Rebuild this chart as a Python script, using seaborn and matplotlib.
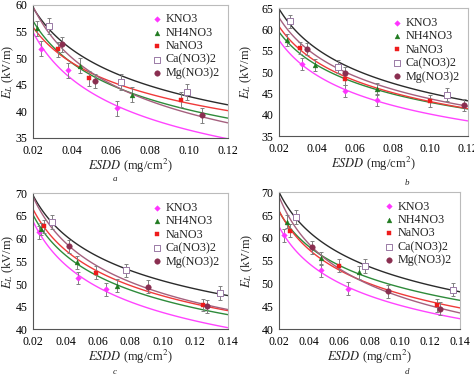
import numpy as np
import matplotlib
matplotlib.use("Agg")
import matplotlib.pyplot as plt
import seaborn as sns

salts = ["KNO3", "NH4NO3", "NaNO3", "Ca(NO3)2", "Mg(NO3)2"]

# ESDD (mg/cm2) and EL (kV/m), one list per salt
esdd_a = [[0.024, 0.038, 0.063], [0.022, 0.044, 0.071], [0.033, 0.049, 0.096],
          [0.028, 0.065, 0.099], [0.035, 0.052, 0.107]]
el_a = [[51.8, 47.7, 40.6], [55.6, 48.6, 43.1], [51.7, 46.2, 42.2],
        [56.0, 45.6, 43.6], [52.6, 45.7, 39.3]]

esdd_b = [[0.032, 0.055, 0.072], [0.024, 0.039, 0.072], [0.031, 0.055, 0.100],
          [0.026, 0.051, 0.109], [0.035, 0.055, 0.118]]
el_b = [[51.9, 45.6, 43.4], [57.5, 51.6, 46.0], [55.6, 48.5, 43.3],
        [61.9, 51.3, 44.7], [55.5, 49.9, 42.2]]

esdd_c = [[0.024, 0.048, 0.065], [0.025, 0.047, 0.072], [0.027, 0.059, 0.125],
          [0.032, 0.077, 0.135], [0.042, 0.091, 0.127]]
el_c = [[61.4, 51.3, 48.8], [62.1, 54.8, 49.6], [62.7, 52.5, 45.4],
        [63.6, 53.0, 48.0], [58.3, 49.4, 45.1]]

esdd_d = [[0.023, 0.048, 0.066], [0.025, 0.048, 0.073], [0.027, 0.060, 0.125],
          [0.031, 0.077, 0.135], [0.042, 0.092, 0.127]]
el_d = [[60.6, 52.9, 48.9], [63.5, 55.5, 52.5], [61.6, 53.9, 45.3],
        [64.5, 53.8, 48.7], [57.9, 48.3, 44.5]]

err = [1.4, 1.4, 1.4, 1.5, 1.4]

panels = ["a", "b", "c", "d"]
xmaxs = [0.12, 0.12, 0.14, 0.14]
ylims = [(35, 60), (35, 65), (40, 70), (40, 70)]

marker_col = ["#ff33ff", "#1f7a1f", "#ee1c1c", "#9a7aa6", "#8a2e50"]
curve_col = ["#ff44ff", "#2e8b3a", "#f03a3a", "#2b2b2b", "#a5607e"]
markers = ["D", "^", "s", "s", "o"]
msize = [8, 12, 12, 14, 16]

sns.set_theme(style="white")
plt.rcParams["font.family"] = ["Liberation Serif", "DejaVu Serif"]
plt.rcParams["mathtext.fontset"] = "stix"

fig = plt.figure(figsize=(4.74, 3.76), dpi=100)
rects = [[0.0696, 0.633, 0.411, 0.354], [0.5886, 0.638, 0.399, 0.340],
         [0.0696, 0.124, 0.411, 0.362], [0.5886, 0.124, 0.382, 0.365]]
ylab_x = [-0.085, -0.13, -0.085, -0.135]
# panel letter positions in pixels (x, y from top)
letter_pos = [(115, 179), (407, 183), (115, 372), (407, 372)]
all_x = [esdd_a, esdd_b, esdd_c, esdd_d]
all_y = [el_a, el_b, el_c, el_d]

for p in range(4):
    ax = fig.add_axes(rects[p])
    xs, ys = all_x[p], all_y[p]
    xfit = np.linspace(0.02, xmaxs[p], 120)
    for i in range(5):
        x = np.array(xs[i])
        y = np.array(ys[i])
        # Excel-style power trend line
        k, c = np.polyfit(np.log(x), np.log(y), 1)
        sns.lineplot(x=xfit, y=np.exp(c) * xfit ** k, ax=ax, color=curve_col[i],
                     lw=1.0, legend=False, zorder=2)
    for i in range(5):
        x = np.array(xs[i])
        y = np.array(ys[i])
        ax.errorbar(x, y, yerr=err[i], fmt="none", ecolor="#808080",
                    elinewidth=0.7, capsize=1.6, capthick=0.7, zorder=3)
        if i == 3:
            sns.scatterplot(x=x, y=y, ax=ax, marker=markers[i], s=msize[i],
                            color="white", edgecolor=marker_col[i], linewidth=0.7,
                            label=salts[i], zorder=4)
        else:
            sns.scatterplot(x=x, y=y, ax=ax, marker=markers[i], s=msize[i],
                            color=marker_col[i], edgecolor=marker_col[i],
                            linewidth=0.3, label=salts[i], zorder=4)
    ax.set_xlim(0.02, xmaxs[p])
    ax.set_ylim(*ylims[p])
    ticks = np.arange(0.02, xmaxs[p] + 0.001, 0.02)
    ax.set_xticks(ticks)
    ax.set_xticklabels(["%.2f" % t for t in ticks])
    ax.set_yticks(np.arange(ylims[p][0], ylims[p][1] + 1, 5))
    ax.tick_params(labelsize=8.6, length=2, colors="black")
    ax.tick_params(axis="x", pad=3)
    ax.tick_params(axis="y", pad=2)
    for s in ["left", "bottom"]:
        ax.spines[s].set_color("#555555")
    for s in ["top", "right"]:
        ax.spines[s].set_color("#bbbbbb")
    for s in ax.spines.values():
        s.set_linewidth(0.8)
    ax.set_xlabel(r"$ESDD$ (mg/cm$^2$)", fontsize=9, labelpad=0)
    ax.set_ylabel(r"$E_L$ (kV/m)", fontsize=9)
    ax.yaxis.set_label_coords(ylab_x[p], 0.5)
    fig.text(letter_pos[p][0] / 474, 1 - letter_pos[p][1] / 376, panels[p],
             ha="center", va="center", fontsize=6.5, style="italic")
    ax.legend(loc="upper right", frameon=False, fontsize=8.7, labelspacing=0.12,
              handletextpad=0.1, borderaxespad=0.3, handlelength=1.2)

fig.savefig("out.png", dpi=100)
